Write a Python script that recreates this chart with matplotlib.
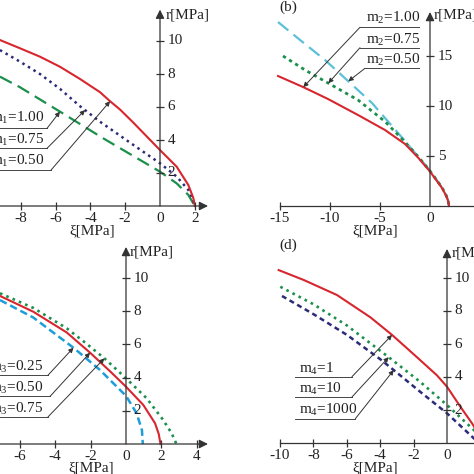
import numpy as np
import matplotlib
matplotlib.use("Agg")
import matplotlib.pyplot as plt

plt.rcParams['font.family'] = ['Liberation Serif', 'DejaVu Serif']
plt.rcParams['mathtext.fontset'] = 'custom'
plt.rcParams['mathtext.rm'] = 'Liberation Serif'
plt.rcParams['mathtext.it'] = 'Liberation Serif'

# ---- data (xi [MPa], r [MPa]) ----
# (a) m1
xi_a_red = [-9.2, -8.05, -6.9, -5.75, -4.6, -3.45, -2.87, -2.3, -1.53, 0, 0.96, 1.63, 1.92, 2.0]
r_a_red = [10.06, 9.56, 9.05, 8.44, 7.7, 6.9, 6.35, 5.85, 5.05, 3.39, 2.38, 1.27, 0.47, 0]
xi_a_navy = [-9.2, -8.05, -6.9, -5.75, -4.6, -3.45, -1.53, 0, 0.96, 1.63, 1.9, 2.0]
r_a_navy = [9.45, 8.75, 8.0, 7.1, 6.05, 5.11, 3.7, 2.59, 1.78, 0.97, 0.4, 0]
xi_a_green = [-9.2, -8.05, -5.75, -3.26, 0, 0.96, 1.63, 2.0]
r_a_green = [7.84, 7.2, 5.72, 4.1, 2.08, 1.37, 0.67, 0]
labels_a = [r'm$_1$=1.00', r'm$_1$=0.75', r'm$_1$=0.50']

# (b) m2
xi_b_red = [-15.2, -12.7, -10.2, -7.2, -4.5, -2.5, -1.2, 0, 1.2, 1.6, 1.8, 1.9]
r_b_red = [13.0, 11.9, 10.7, 9.1, 7.6, 6.2, 4.85, 3.45, 1.8, 1.05, 0.55, 0]
xi_b_green = [-14.7, -12.5, -10.2, -7.2, -4.5, -2.5, -1.2, 0, 1.2, 1.6, 1.8, 1.9]
r_b_green = [15.0, 13.6, 12.3, 10.6, 8.45, 6.4, 4.95, 3.5, 1.85, 1.1, 0.6, 0]
xi_b_cyan = [-15.2, -12.5, -10.5, -8.2, -5.8, -4.5, -2.5, -1.2, 0, 1.2, 1.6, 1.8, 1.9]
r_b_cyan = [18.4, 16.2, 14.6, 12.5, 10.3, 8.8, 6.5, 4.95, 3.55, 1.85, 1.1, 0.6, 0]
labels_b = [r'm$_2$=1.00', r'm$_2$=0.75', r'm$_2$=0.50']

# (c) m3
xi_c_red = [-7.12, -5.24, -3.35, -2.03, -0.9, 0, 0.98, 1.64, 1.85, 1.95]
r_c_red = [8.92, 7.97, 6.72, 5.5, 4.38, 3.45, 2.35, 1.25, 0.6, 0]
xi_c_cyan = [-7.12, -5.24, -2.97, -1.47, 0, 0.6, 0.9, 0.95]
r_c_cyan = [8.67, 7.62, 5.8, 4.46, 2.9, 1.85, 0.84, 0]
xi_c_green = [-7.12, -5.24, -3.35, -2.3, -1.22, 0, 1.17, 2.1, 2.58, 2.85]
r_c_green = [9.08, 8.2, 6.97, 6.1, 5.16, 3.96, 2.75, 1.45, 0.64, 0]
labels_c = [r'm$_3$=0.25', r'm$_3$=0.50', r'm$_3$=0.75']

# (d) m4
xi_d_red = [-10.08, -8.58, -6.59, -4.59, -3.29, -1.8, -0.6, 0, 0.8, 1.5, 1.8]
r_d_red = [10.48, 9.88, 8.97, 7.62, 6.55, 5.2, 4.1, 3.41, 2.2, 1.19, 0.7]
xi_d_green = [-9.98, -7.98, -5.99, -3.49, -1.6, 0, 1.5, 1.8]
r_d_green = [9.47, 8.4, 7.12, 5.2, 3.7, 2.3, 0.89, 0.6]
xi_d_navy = [-9.88, -7.98, -5.99, -4.0, -3.19, -1.6, 0, 1.4, 1.8]
r_d_navy = [8.91, 7.8, 6.55, 5.08, 4.42, 3.1, 1.8, 0.48, 0.1]
labels_d = [r'm$_4$=1', r'm$_4$=10', r'm$_4$=1000']

RED = '#d7262e'
NAVY = '#2b2b78'
GREEN = '#1b8f4c'
CYAN_B = '#5cc0d8'
CYAN_C = '#1d9ed9'
AX = '#333333'
FS = 11

W = H = 474
fig = plt.figure(figsize=(4.74, 4.74), dpi=100)


def panel(x0, x1, y0, y1, ox, oy, sx, sy):
    ax = fig.add_axes([x0 / W, 1 - y1 / H, (x1 - x0) / W, (y1 - y0) / H])
    ax.set_xlim((x0 - ox) / sx, (x1 - ox) / sx)
    ax.set_ylim((oy - y1) / sy, (oy - y0) / sy)
    ax.axis('off')
    return ax


def axes_lines(ax, xstart, xend, xarrow, ytop, xticks, xlabels, yticks):
    if xarrow:
        ax.annotate('', xy=(xend, 0), xytext=(xstart, 0),
                    arrowprops=dict(arrowstyle='-|>', color=AX, lw=0.9,
                                    mutation_scale=13, shrinkA=0, shrinkB=0))
    else:
        ax.plot([xstart, xend], [0, 0], color=AX, lw=0.9)
    ax.annotate('', xy=(0, ytop), xytext=(0, 0),
                arrowprops=dict(arrowstyle='-|>', color=AX, lw=0.9,
                                mutation_scale=13, shrinkA=0, shrinkB=0))
    tx = [t for t in xticks if t != 0]
    ax.plot(tx, np.zeros(len(tx)), ls='none', marker='|', ms=6, mew=0.9, color=AX)
    ax.plot(np.zeros(len(yticks)), yticks, ls='none', marker='_', ms=6, mew=0.9, color=AX)
    for t, s in zip(xticks, xlabels):
        ax.annotate(s, xy=(t, 0), xytext=(0, -9), textcoords='offset points',
                    ha='center', va='center', fontsize=FS, color='#222')
    for t in yticks:
        ax.annotate(str(t), xy=(0, t), xytext=(5.5, 0), textcoords='offset points',
                    ha='left', va='center', fontsize=FS, color='#222')


def leader(ax, text, tx, ty, ha, ux0, ux1, uy, ufrom, tip_x, xs, ys):
    ax.text(tx, ty, text, ha=ha, va='center', fontsize=FS, color='#222')
    ax.plot([ux0, ux1], [uy, uy], color='#444', lw=0.7)
    tip = (tip_x, np.interp(tip_x, xs, ys))
    ax.annotate('', xy=tip, xytext=(ufrom, uy),
                arrowprops=dict(arrowstyle='-|>', color='#333', lw=0.7,
                                mutation_scale=7, shrinkA=0, shrinkB=0))


# ---------- (a) ----------
ax = panel(0, 237, 0, 237, 160, 206, 17.4, 16.5)
ax.plot(xi_a_green, r_a_green, color=GREEN, lw=1.6, dashes=(6, 3))
ax.plot(xi_a_navy, r_a_navy, color=NAVY, lw=1.8, dashes=(1, 1.6))
ax.plot(xi_a_red, r_a_red, color=RED, lw=1.5)
axes_lines(ax, ax.get_xlim()[0], 2.76, True, 11.9,
           [-10, -8, -6, -4, -2, 0, 2], ['-10', '-8', '-6', '-4', '-2', '0', '2'],
           [2, 4, 6, 8, 10])
ax.text(0.34, 11.58, 'r[MPa]', ha='left', va='center', fontsize=FS, color='#222')
ax.text(-3.88, -1.5, 'ξ[MPa]', ha='center', va='center', fontsize=FS, color='#222')
xl = ax.get_xlim()[0]
leader(ax, labels_a[0], -6.67, 5.33, 'right', xl, -6.49, 4.71, -6.49, -5.75, xi_a_green, r_a_green)
leader(ax, labels_a[1], -6.67, 4.0, 'right', xl, -6.49, 3.5, -6.49, -4.31, xi_a_navy, r_a_navy)
leader(ax, labels_a[2], -6.67, 2.73, 'right', xl, -6.26, 2.18, -6.26, -2.87, xi_a_red, r_a_red)

# ---------- (b) ----------
ax = panel(237, 474, 0, 237, 430, 206, 10.0, 10.0)
ax.plot(xi_b_cyan, r_b_cyan, color=CYAN_B, lw=1.6, dashes=(6, 3))
ax.plot(xi_b_green, r_b_green, color=GREEN, lw=2.0, dashes=(1.2, 1.4))
ax.plot(xi_b_red, r_b_red, color=RED, lw=1.5)
axes_lines(ax, -15.0, ax.get_xlim()[1], False, 19.4,
           [-15, -10, -5, 0], ['-15', '-10', '-5', '0'], [5, 10, 15])
ax.text(0.37, 19.1, 'r[MPa]', ha='left', va='center', fontsize=FS, color='#222')
ax.text(-5.5, -2.45, 'ξ[MPa]', ha='center', va='center', fontsize=FS, color='#222')
ax.text(-15.1, 19.9, '(b)', ha='left', va='center', fontsize=FS, color='#222')
leader(ax, labels_b[0], -6.4, 18.77, 'left', -7.0, -1.1, 17.87, -7.0, -12.67, xi_b_red, r_b_red)
leader(ax, labels_b[1], -6.4, 16.6, 'left', -7.0, -1.1, 15.83, -7.0, -10.17, xi_b_green, r_b_green)
leader(ax, labels_b[2], -6.4, 14.6, 'left', -6.5, -1.1, 13.77, -6.5, -8.17, xi_b_cyan, r_b_cyan)

# ---------- (c) ----------
ax = panel(0, 237, 237, 474, 126, 444, 17.7, 16.6)
ax.plot(xi_c_cyan, r_c_cyan, color=CYAN_C, lw=1.8, dashes=(3, 1.6))
ax.plot(xi_c_green, r_c_green, color=GREEN, lw=1.9, dashes=(1, 1.6))
ax.plot(xi_c_red, r_c_red, color=RED, lw=1.5)
axes_lines(ax, ax.get_xlim()[0], 4.63, True, 11.87,
           [-8, -6, -4, -2, 0, 2, 4], ['-8', '-6', '-4', '-2', '0', '2', '4'],
           [2, 4, 6, 8, 10])
ax.text(0.23, 11.57, 'r[MPa]', ha='left', va='center', fontsize=FS, color='#222')
ax.text(-1.94, -1.45, 'ξ[MPa]', ha='center', va='center', fontsize=FS, color='#222')
xl = ax.get_xlim()[0]
leader(ax, labels_c[0], -4.69, 4.64, 'right', xl, -4.41, 4.14, -4.41, -2.97, xi_c_cyan, r_c_cyan)
leader(ax, labels_c[1], -4.69, 3.39, 'right', xl, -4.29, 2.87, -4.29, -2.03, xi_c_red, r_c_red)
leader(ax, labels_c[2], -4.69, 2.13, 'right', xl, -4.41, 1.63, -4.41, -1.22, xi_c_green, r_c_green)

# ---------- (d) ----------
ax = panel(237, 474, 237, 474, 447, 443, 16.7, 16.5)
ax.plot(xi_d_navy, r_d_navy, color=NAVY, lw=1.8, dashes=(2, 1.5))
ax.plot(xi_d_green, r_d_green, color=GREEN, lw=1.9, dashes=(1, 1.6))
ax.plot(xi_d_red, r_d_red, color=RED, lw=1.5)
axes_lines(ax, -10.0, ax.get_xlim()[1], False, 11.76,
           [-10, -8, -6, -4, -2, 0], ['-10', '-8', '-6', '-4', '-2', '0'],
           [2, 4, 6, 8, 10])
ax.text(0.3, 11.5, 'r[MPa]', ha='left', va='center', fontsize=FS, color='#222')
ax.text(-4.3, -1.5, 'ξ[MPa]', ha='center', va='center', fontsize=FS, color='#222')
ax.text(-10.06, 12.0, '(d)', ha='left', va='center', fontsize=FS, color='#222')
leader(ax, labels_d[0], -8.88, 4.5, 'left', -9.08, -5.69, 4.02, -5.69, -3.29, xi_d_red, r_d_red)
leader(ax, labels_d[1], -8.88, 3.3, 'left', -9.08, -5.69, 2.79, -5.69, -3.49, xi_d_green, r_d_green)
leader(ax, labels_d[2], -8.88, 1.98, 'left', -9.08, -5.49, 1.47, -5.49, -3.19, xi_d_navy, r_d_navy)

fig.savefig('out.png', dpi=100)
